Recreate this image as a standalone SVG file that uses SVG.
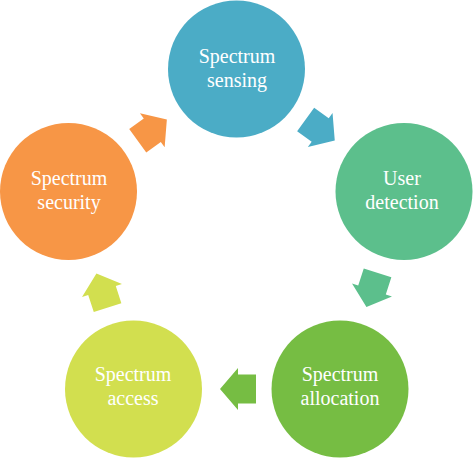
<svg xmlns="http://www.w3.org/2000/svg" width="474" height="458" viewBox="0 0 474 458">
<style>
.lbl{font-family:"Liberation Serif","Times New Roman",serif;font-size:20px;fill:#ffffff;text-anchor:middle}
</style>
<defs>
<polygon id="arr" points="-18,-14.5 0,-14.5 0,-21 18,0 0,21 0,14.5 -18,14.5"/>
</defs>
<rect width="474" height="458" fill="#ffffff"/>
<g id="connectors">
<use href="#arr" fill="#F79646" transform="translate(152.3,130.2) rotate(-36)"/>
<use href="#arr" fill="#4BACC6" transform="translate(320.2,130) rotate(36)"/>
<use href="#arr" fill="#5CBF8C" transform="translate(372,290) rotate(108)"/>
<use href="#arr" fill="#76BD43" transform="translate(238,389) rotate(180)"/>
<use href="#arr" fill="#D2DF4F" transform="translate(102,290.5) rotate(252)"/>
</g>
<g id="node-sensing">
<circle cx="236.5" cy="69" r="68.5" fill="#4BACC6"/>
<text class="lbl" x="237" y="63">Spectrum</text>
<text class="lbl" x="237" y="87">sensing</text>
</g>
<g id="node-detection">
<circle cx="404" cy="191.5" r="68.5" fill="#5CBF8C"/>
<text class="lbl" x="402" y="185">User</text>
<text class="lbl" x="402" y="208.5">detection</text>
</g>
<g id="node-allocation">
<circle cx="340" cy="389" r="68.5" fill="#76BD43"/>
<text class="lbl" x="340" y="381">Spectrum</text>
<text class="lbl" x="340" y="405">allocation</text>
</g>
<g id="node-access">
<circle cx="133.5" cy="389" r="68.5" fill="#D2DF4F"/>
<text class="lbl" x="133" y="381">Spectrum</text>
<text class="lbl" x="133" y="405">access</text>
</g>
<g id="node-security">
<circle cx="68.5" cy="191.5" r="68.5" fill="#F79646"/>
<text class="lbl" x="69" y="185">Spectrum</text>
<text class="lbl" x="69" y="208.5">security</text>
</g>
</svg>
